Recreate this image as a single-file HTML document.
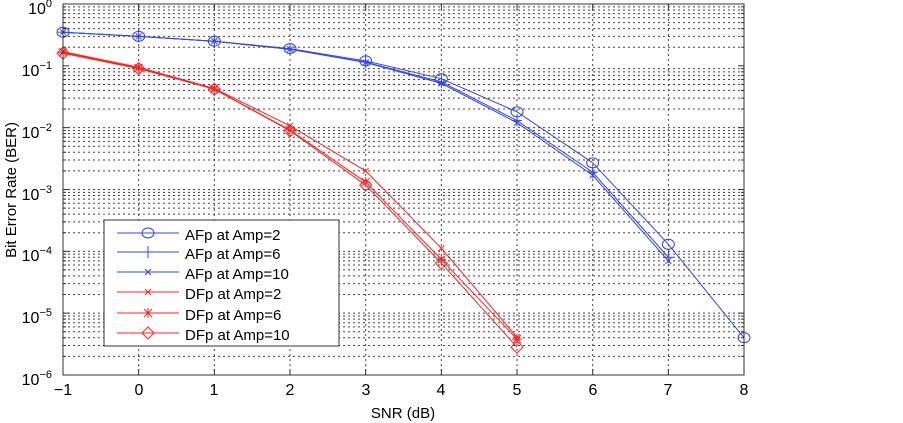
<!DOCTYPE html>
<html><head><meta charset="utf-8"><style>
html,body{margin:0;padding:0;background:#fff;}
svg{display:block;font-family:"Liberation Sans",sans-serif;}
</style></head><body>
<svg id="s" width="903" height="423" viewBox="0 0 903 423" xmlns="http://www.w3.org/2000/svg">
<rect x="0" y="0" width="903" height="423" fill="#fff"/>
<g id="grid"></g>
<g id="series"></g>
<rect x="63" y="4" width="681" height="371" fill="none" stroke="#333" stroke-width="1"/>
<g id="ticks"></g>
<g font-size="16" fill="#000" text-anchor="middle">
<text x="63" y="395">−1</text><text x="139" y="395">0</text><text x="214" y="395">1</text>
<text x="290" y="395">2</text><text x="366" y="395">3</text><text x="441" y="395">4</text>
<text x="517" y="395">5</text><text x="593" y="395">6</text><text x="668" y="395">7</text>
<text x="744" y="395">8</text>
<text x="403" y="418" font-size="15">SNR (dB)</text>
</g>
<g font-size="16" fill="#000" text-anchor="end">
<text x="52" y="14">10<tspan dy="-7" font-size="11">0</tspan></text>
<text x="52" y="76">10<tspan dy="-7" font-size="11">−1</tspan></text>
<text x="52" y="138">10<tspan dy="-7" font-size="11">−2</tspan></text>
<text x="52" y="200">10<tspan dy="-7" font-size="11">−3</tspan></text>
<text x="52" y="261">10<tspan dy="-7" font-size="11">−4</tspan></text>
<text x="52" y="323">10<tspan dy="-7" font-size="11">−5</tspan></text>
<text x="52" y="385">10<tspan dy="-7" font-size="11">−6</tspan></text>
</g>
<text x="16" y="190" font-size="15" text-anchor="middle" transform="rotate(-90 16 190)">Bit Error Rate (BER)</text>
<rect x="104" y="220" width="235" height="126" fill="#fff" stroke="#333"/>
<g id="leg"></g>
<g font-size="15" fill="#000">
<text x="185" y="240">AFp at Amp=2</text>
<text x="185" y="259">AFp at Amp=6</text>
<text x="185" y="279">AFp at Amp=10</text>
<text x="185" y="299">DFp at Amp=2</text>
<text x="185" y="320">DFp at Amp=6</text>
<text x="185" y="340">DFp at Amp=10</text>
</g>
</svg>
<script>
var NS="http://www.w3.org/2000/svg";
function el(p,t,a){var e=document.createElementNS(NS,t);for(var k in a)e.setAttribute(k,a[k]);p.appendChild(e);return e;}
var X0=63,DX=75.67,Y0=4,DY=61.83;
function px(x){return X0+(x+1)*DX;}
function py(l){return Y0-l*DY;}
var g=document.getElementById('grid'),tk=document.getElementById('ticks');
for(var i=1;i<9;i++){var x=px(i-1);el(g,'line',{x1:x,y1:4,x2:x,y2:375,stroke:'#444','stroke-dasharray':'2,3','stroke-width':1});}
for(var d=0;d<6;d++){for(var m=1;m<10;m++){var y=py(-d-1+Math.log10(m));if(m>1||d>0){el(g,'line',{x1:63,y1:y,x2:744,y2:y,stroke:'#444','stroke-dasharray':'2,3','stroke-width':1});}
var len=m==1?6:3;el(tk,'line',{x1:63,y1:y,x2:63+len,y2:y,stroke:'#333'});el(tk,'line',{x1:744,y1:y,x2:744-len,y2:y,stroke:'#333'});}}
for(var i=0;i<10;i++){var x=px(i-1);el(tk,'line',{x1:x,y1:375,x2:x,y2:369,stroke:'#333'});el(tk,'line',{x1:x,y1:4,x2:x,y2:10,stroke:'#333'});}
function L(v){return Math.log10(v);}
var B='#3344ee',R='#ff2222';
var S=[
 {c:B,m:'o',d:[L(.35),L(.30),L(.25),L(.19),L(.12),L(.062),L(.018),L(.0027),L(1.3e-4),L(4e-6)]},
 {c:B,m:'+',d:[L(.35),L(.30),L(.25),L(.185),L(.115),L(.055),L(.013),L(.0019),L(8e-5)]},
 {c:B,m:'x',d:[L(.35),L(.30),L(.25),L(.185),L(.113),L(.052),L(.012),L(.0017),L(7e-5)]},
 {c:R,m:'x',d:[L(.17),L(.095),L(.043),-1.97,-2.70,-3.95,-5.39]},
 {c:R,m:'*',d:[L(.165),L(.092),L(.042),-2.04,-2.88,-4.13,-5.42]},
 {c:R,m:'d',d:[L(.16),L(.09),L(.042),-2.05,-2.93,-4.19,-5.55]}];
var sg=document.getElementById('series');
function mark(p,m,x,y,c){
 if(m=='o')el(p,'ellipse',{cx:x,cy:y,rx:6,ry:5,fill:'none',stroke:c});
 else if(m=='+'){el(p,'line',{x1:x-5,y1:y,x2:x+5,y2:y,stroke:c});el(p,'line',{x1:x,y1:y-6,x2:x,y2:y+6,stroke:c});}
 else if(m=='x'){el(p,'path',{d:'M'+(x-3)+' '+(y-3)+'L'+(x+3)+' '+(y+3)+'M'+(x-3)+' '+(y+3)+'L'+(x+3)+' '+(y-3),stroke:c,fill:'none'});}
 else if(m=='*'){el(p,'path',{d:'M'+(x-5)+' '+y+'H'+(x+5)+'M'+x+' '+(y-5)+'V'+(y+5)+'M'+(x-4)+' '+(y-4)+'L'+(x+4)+' '+(y+4)+'M'+(x-4)+' '+(y+4)+'L'+(x+4)+' '+(y-4),stroke:c,fill:'none'});}
 else if(m=='d')el(p,'path',{d:'M'+x+' '+(y-6)+'L'+(x+6)+' '+y+'L'+x+' '+(y+6)+'L'+(x-6)+' '+y+'Z',stroke:c,fill:'none'});
}
S.forEach(function(s){var pts=s.d.map(function(v,i){return px(i-1)+','+py(v);}).join(' ');
 el(sg,'polyline',{points:pts,fill:'none',stroke:s.c,'stroke-width':1});
 s.d.forEach(function(v,i){mark(sg,s.m,px(i-1),py(v),s.c);});});
var lg=document.getElementById('leg');var ry=[233,252,272,292,313,333];
S.forEach(function(s,i){el(lg,'line',{x1:117,y1:ry[i],x2:179,y2:ry[i],stroke:s.c});mark(lg,s.m,148,ry[i],s.c);});
</script>
</body></html>
